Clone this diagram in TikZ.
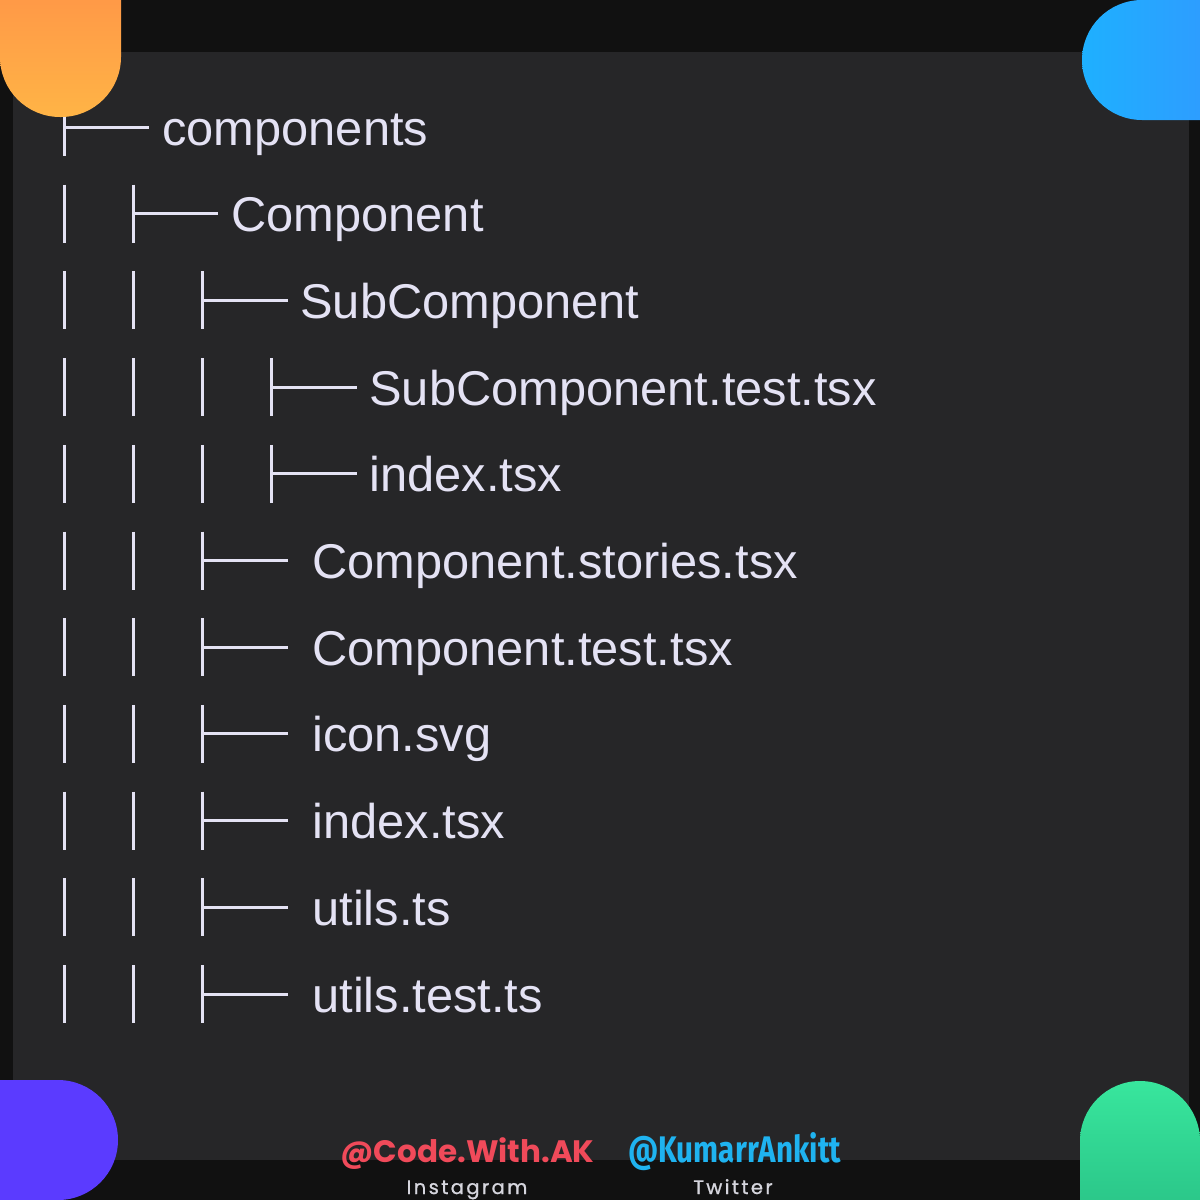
\documentclass[tikz,border=0pt]{standalone}
\usepackage{fontspec}
\setmainfont{Liberation Sans}
\newfontfamily\poppins{Poppins}
\newfontfamily\poppinsls[LetterSpace=12,FakeBold=1]{Poppins}
\newfontfamily\firasans{Fira Sans}
\definecolor{outerbg}{HTML}{111111}
\definecolor{panel}{HTML}{262628}
\definecolor{treefg}{HTML}{E4E2F4}
\definecolor{igred}{HTML}{F04A5A}
\definecolor{twblue}{HTML}{1FB3F0}
\definecolor{lblgray}{HTML}{D6D6DE}
\tikzset{
  treeline/.style={draw=treefg, line width=1.5pt},
  treetext/.style={anchor=base west, inner sep=0pt, text=treefg, font=\fontsize{24.4}{30}\selectfont},
  blob/.style={rounded corners=30pt},
}
\begin{document}
\begin{tikzpicture}[x=0.5pt,y=-0.5pt]
\useasboundingbox (0,0) rectangle (1200,1200);
\clip (0,0) rectangle (1200,1200);
\fill[outerbg] (0,0) rectangle (1200,1200);
\fill[panel] (13,52) rectangle (1189,1160);
% tree
\foreach \i/\d/\tx/\lab in {
  0/0/162/components,
  1/1/231/Component,
  2/2/300/SubComponent,
  3/3/369/SubComponent.test.tsx,
  4/3/369/index.tsx,
  5/2/312/Component.stories.tsx,
  6/2/312/Component.test.tsx,
  7/2/312/icon.svg,
  8/2/312/index.tsx,
  9/2/312/utils.ts,
  10/2/312/utils.test.ts}{
  \pgfmathsetmacro\cy{127+86.7*\i}
  \foreach \k in {0,...,\d}{
    \pgfmathsetmacro\cx{64+69.3*\k}
    \draw[treeline] (\cx,\cy-29) -- (\cx,\cy+29);
  }
  \pgfmathsetmacro\hx{64+69.3*\d}
  \draw[treeline] (\hx,\cy) -- (\hx+85,\cy);
  \node[treetext] (t\i) at (\tx,\cy+18) {\lab};
}
% corner blobs
\shade[blob, top color={rgb,255:red,255;green,140;blue,72}, bottom color={rgb,255:red,255;green,180;blue,70}]
  (0,-60) rectangle (121,117);
\shade[blob, left color={rgb,255:red,30;green,176;blue,255}, right color={rgb,255:red,53;green,148;blue,255}]
  (1082,0) rectangle (1262,120);
\fill[blob, fill={rgb,255:red,91;green,59;blue,255}]
  (-60,1080) rectangle (118,1200);
\shade[blob, top color={rgb,255:red,56;green,230;blue,157}, bottom color={rgb,255:red,37;green,184;blue,128}]
  (1080,1081) rectangle (1200,1261);
% footer
\node[anchor=base west, inner sep=0pt, text=igred, font=\poppins\bfseries\fontsize{15.5}{18}\selectfont] (ig) at (340,1162) {@Code.With.AK};
\node[anchor=base west, inner sep=0pt, text=twblue, font=\firasans\bfseries\fontsize{18.5}{20}\selectfont] (tw) at (628,1162) {\scalebox{0.8}[1]{@KumarrAnkitt}};
\node[anchor=base, inner sep=0pt, text=lblgray, font=\poppinsls\fontsize{9.8}{11}\selectfont] (igl) at (467,1194) {Instagram};
\node[anchor=base, inner sep=0pt, text=lblgray, font=\poppinsls\fontsize{9.8}{11}\selectfont] (twl) at (733,1194) {Twitter};
\end{tikzpicture}
\end{document}
